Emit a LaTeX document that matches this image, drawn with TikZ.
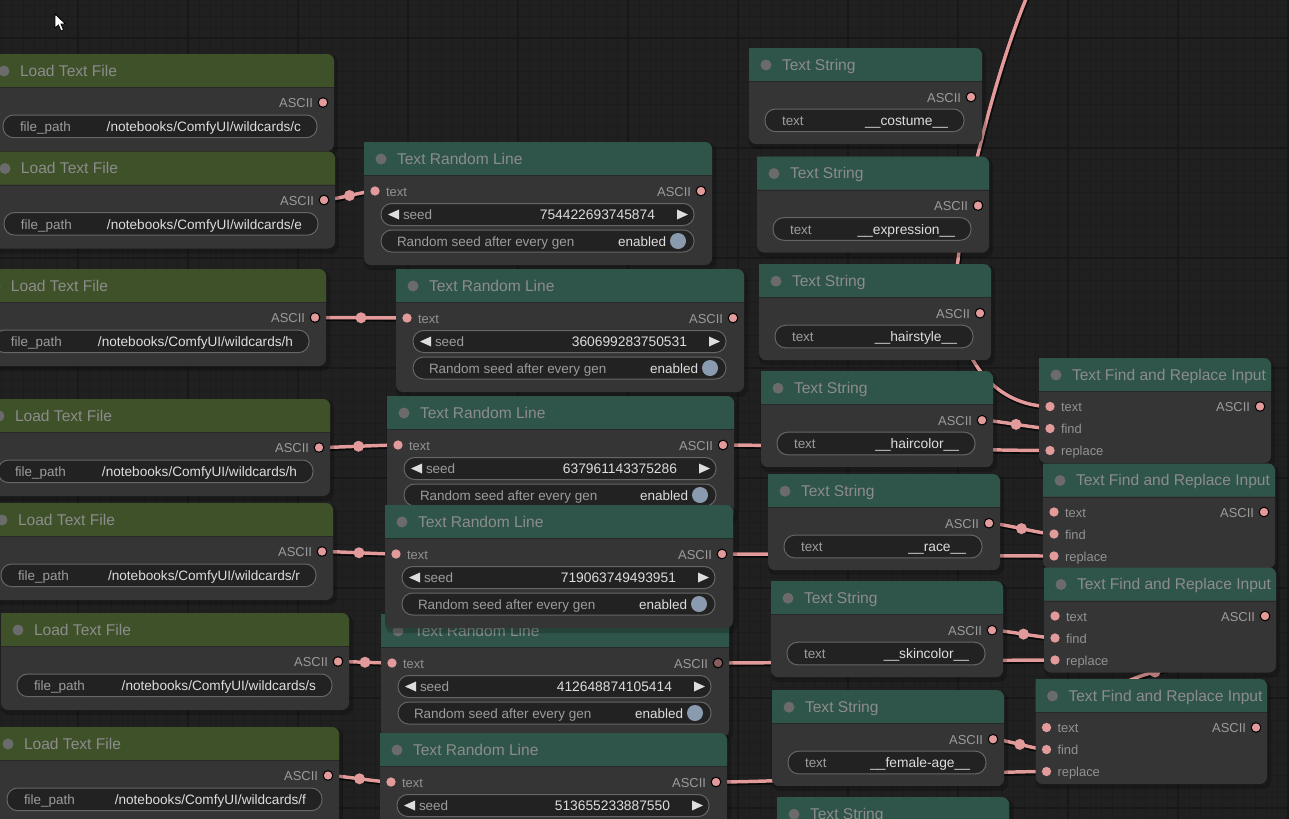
\documentclass[tikz,border=0pt]{standalone}
\usepackage{fontspec}
\setmainfont{Liberation Sans}
\definecolor{canvas}{HTML}{202020}
\definecolor{gridminor}{HTML}{1C1C1C}
\definecolor{gridmajor}{HTML}{181818}
\definecolor{bodyc}{HTML}{353535}
\definecolor{greenc}{HTML}{3F5129}
\definecolor{tealc}{HTML}{2F5449}
\definecolor{pinkc}{HTML}{E39A9A}
\definecolor{widgetc}{HTML}{222222}
\definecolor{widgetb}{HTML}{666666}
\definecolor{titlec}{HTML}{8C8C8C}
\definecolor{labelc}{HTML}{9C9C9C}
\definecolor{valuec}{HTML}{DDDDDD}
\definecolor{toggledot}{HTML}{8A9BB0}
\pgfdeclarelayer{backdrop}
\pgfdeclarelayer{links}
\pgfsetlayers{backdrop,links,main}
\tikzset{
  x=0.75pt,y=-0.75pt,
  nodebody/.style={rectangle,rounded corners=5.25pt,fill=bodyc,inner sep=0pt,outer sep=0pt,anchor=north west},
  shadowbox/.style={rectangle,rounded corners=6pt,fill=black,opacity=.2,inner sep=0pt,outer sep=0pt,anchor=north west},
  widgetbox/.style={rectangle,rounded corners=8pt,fill=widgetc,draw=widgetb,line width=.75pt,inner sep=0pt,outer sep=0pt,anchor=north west},
  txt/.style={inner sep=0pt,outer sep=0pt,text height=7.5pt,text depth=0pt,font=\fontsize{9.7pt}{11pt}\selectfont},
  wlabel/.style={txt,font=\fontsize{10.1pt}{11pt}\selectfont},
  wvalue/.style={txt,font=\fontsize{10.2pt}{11pt}\selectfont},
  wseed/.style={txt,font=\fontsize{10.35pt}{11pt}\selectfont},
  titletxt/.style={inner sep=0pt,outer sep=0pt,anchor=west,text height=8pt,text depth=0pt,text=titlec,font=\fontsize{11.68pt}{13pt}\selectfont},
  titledot/.style={circle,fill=black!58,inner sep=0pt,outer sep=0pt,minimum size=8.25pt},
  indot/.style={circle,fill=pinkc,inner sep=0pt,outer sep=0pt,minimum size=7pt},
  outdot/.style={circle,fill=pinkc,draw=black,line width=.75pt,inner sep=0pt,outer sep=0pt,minimum size=7.25pt},
  togdot/.style={circle,fill=toggledot,inner sep=0pt,outer sep=0pt,minimum size=12pt},
  link/.style={draw=pinkc,line width=2.6pt,preaction={draw=black,opacity=.7,line width=4.2pt,transform canvas={xshift=.4pt,yshift=-.6pt}}},
  middot/.style={circle,fill=pinkc,inner sep=0pt,outer sep=0pt,minimum size=8.25pt},
  arrowtip/.style={fill=valuec},
}
\newcommand{\frameN}[7]{%
  \node[shadowbox,minimum width={(#4-#2+4)*.75pt},minimum height={(#5-#3+4)*.75pt}] at (#2,#3+1) {};
  \node[nodebody,minimum width={(#4-#2)*.75pt},minimum height={(#5-#3)*.75pt}] (#1) at (#2,#3) {};
  \fill[#6] (#2,#3+33) -- (#2,#3) {[rounded corners=5.25pt] -- (#4,#3) -- (#4,#3+12)} -- (#4,#3+33) -- cycle;
  \draw[black,opacity=.25,line width=.75pt] (#2,#3+33.5) -- (#4,#3+33.5);
  \node[titledot] (#1-d) at (#2+17,#3+17) {};
  \node[titletxt] (#1-t) at (#2+33,#3+17) {#7};
}
\newcommand{\outP}[3]{%
  \node[outdot] (#1-out) at (#2-11,#3) {};
  \node[txt,anchor=east,text=labelc] (#1-outl) at (#2-21,#3+.2) {ASCII};
}
\newcommand{\inP}[5]{%
  \node[indot] (#1-#2) at (#3+11,#4) {};
  \node[txt,anchor=west,text=labelc!110!white] (#1-#2l) at (#3+22,#4+.1) {#5};
}
\newcommand{\lineW}[6]{%
  \node[widgetbox,minimum width={(#4-#2-33)*.75pt},minimum height=17pt] (#1-w) at (#2+16,#3) {};
  \node[wlabel,anchor=west,text=labelc] (#1-wl) at (#2+33,#3+11.5) {#5};
  \node[wvalue,anchor=east,text=valuec] (#1-wv) at (#4-33,#3+11.5) {#6};
}
\newcommand{\loadN}[5]{%
  \frameN{#1}{#2}{#3}{#4}{#3+97}{greenc}{Load Text File}
  \outP{#1}{#4}{#3+48.5}
  \lineW{#1}{#2}{#3+61}{#4}{file\_path}{#5}
}
\newcommand{\stringN}[5]{%
  \frameN{#1}{#2}{#3}{#4}{#3+96}{tealc}{Text String}
  \outP{#1}{#4}{#3+49}
  \lineW{#1}{#2}{#3+61}{#4-1}{text}{\fontsize{10.35pt}{11pt}\selectfont #5}
}
\newcommand{\randN}[5]{%
  \frameN{#1}{#2}{#3}{#4}{#3+123}{tealc}{Text Random Line}
  \inP{#1}{in}{#2}{#3+49}{text}
  \outP{#1}{#4}{#3+49}
  \node[widgetbox,minimum width={(#4-#2-35)*.75pt},minimum height=16.5pt] (#1-s) at (#2+17,#3+61.5) {};
  \fill[arrowtip] (#2+24,#3+72.5) -- (#2+35,#3+67.5) -- (#2+35,#3+77.5) -- cycle;
  \fill[arrowtip] (#4-24,#3+72.5) -- (#4-35,#3+67.5) -- (#4-35,#3+77.5) -- cycle;
  \node[wlabel,anchor=west,text=labelc] (#1-sl) at (#2+39,#3+72.3) {seed};
  \node[wseed,anchor=east,text=valuec] (#1-sv) at (#4-57,#3+72.3) {#5};
  \node[widgetbox,minimum width={(#4-#2-35)*.75pt},minimum height=16.5pt] (#1-g) at (#2+17,#3+88) {};
  \node[wlabel,anchor=west,text=labelc] (#1-gl) at (#2+33,#3+99.2) {Random seed after every gen};
  \node[wlabel,anchor=east,text=valuec] (#1-gv) at (#4-46,#3+99.2) {enabled};
  \node[togdot] (#1-gd) at (#4-34,#3+99) {};
}
\newcommand{\findN}[4]{%
  \frameN{#1}{#2}{#3}{#4}{#3+105}{tealc}{Text Find and Replace Input}
  \inP{#1}{text}{#2}{#3+48.5}{text}
  \inP{#1}{find}{#2}{#3+70.5}{find}
  \inP{#1}{repl}{#2}{#3+92.5}{replace}
  \outP{#1}{#4}{#3+48.5}
}
\begin{document}
\begin{tikzpicture}
\useasboundingbox (0,0) rectangle (1289,818);
\clip (-1,-1) rectangle (1290,820);
\begin{pgfonlayer}{backdrop}
  \fill[canvas] (-1,-1) rectangle (1290,820);
  \foreach \k in {0,...,117} {\draw[gridminor,line width=.75pt] (1+\k*11,-1) -- (1+\k*11,820);}
  \foreach \k in {0,...,74} {\draw[gridminor,line width=.75pt] (-1,5+\k*11) -- (1290,5+\k*11);}
  \foreach \k in {0,...,11} {\draw[gridmajor,line width=1.5pt] (78+\k*110,-1) -- (78+\k*110,820);}
  \foreach \k in {0,...,7} {\draw[gridmajor,line width=1.5pt] (-1,38+\k*110) -- (1290,38+\k*110);}
\end{pgfonlayer}

\loadN{L1}{-13}{54}{334}{/notebooks/ComfyUI/wildcards/c}
\loadN{L2}{-12}{151.5}{335}{/notebooks/ComfyUI/wildcards/e}
\loadN{L3}{-22}{269}{326}{/notebooks/ComfyUI/wildcards/h}
\loadN{L4}{-18}{399}{330}{/notebooks/ComfyUI/wildcards/h}
\loadN{L5}{-15}{503}{333}{/notebooks/ComfyUI/wildcards/r}
\loadN{L6}{1}{613}{349}{/notebooks/ComfyUI/wildcards/s}
\loadN{L7}{-9}{727}{339}{/notebooks/ComfyUI/wildcards/f}

\randN{T1}{364}{142}{712}{754422693745874}
\randN{T2}{396}{269}{744}{360699283750531}
\randN{T3}{387}{396}{734}{637961143375286}
\begin{scope}[outdot/.append style={fill=pinkc!60!black}]
\randN{T5}{381}{614}{729}{412648874105414}
\end{scope}
\randN{T4}{385}{505}{733}{719063749493951}
\randN{T6}{380}{733}{727}{513655233887550}

\stringN{S1}{749}{48}{982}{\_\_costume\_\_}
\stringN{S2}{757}{156.6}{989}{\_\_expression\_\_}
\stringN{S3}{759}{264.2}{991}{\_\_hairstyle\_\_}
\stringN{S4}{761}{371.2}{993}{\_\_haircolor\_\_}
\stringN{S5}{768}{474.2}{1000}{\_\_race\_\_}
\stringN{S6}{771}{581.2}{1003}{\_\_skincolor\_\_}
\stringN{S7}{772}{690.2}{1004}{\_\_female-age\_\_}
\stringN{S8}{777}{797.2}{1009}{}

\findN{F1}{1039}{358}{1271}
\findN{F2}{1043}{463.5}{1275}
\findN{F3}{1044}{567.5}{1276}
\findN{F4}{1035.5}{679}{1267}

\coordinate (topfar) at (1032,-15);
\coordinate (hidA) at (1100,692);
\coordinate (hidB) at (1210,652);

\begin{pgfonlayer}{links}
  \tikzset{lk/.style={out=0,in=180,looseness=.5}}
  \draw[link] (L2-out.center) to[lk] node[middot,pos=.5] {} (T1-in.center);
  \draw[link] (L3-out.center) to[lk] node[middot,pos=.5] {} (T2-in.center);
  \draw[link] (L4-out.center) to[lk] node[middot,pos=.5] {} (T3-in.center);
  \draw[link] (L5-out.center) to[lk] node[middot,pos=.5] {} (T4-in.center);
  \draw[link] (L6-out.center) to[lk] node[middot,pos=.5] {} (T5-in.center);
  \draw[link] (L7-out.center) to[lk] node[middot,pos=.5] {} (T6-in.center);
  \draw[link] (S4-out.center) to[lk] node[middot,pos=.5] {} (F1-find.center);
  \draw[link] (S5-out.center) to[lk] node[middot,pos=.5] {} (F2-find.center);
  \draw[link] (S6-out.center) to[lk] node[middot,pos=.5] {} (F3-find.center);
  \draw[link] (S7-out.center) to[lk] node[middot,pos=.5] {} (F4-find.center);
  \draw[link] (T3-out.center) to[lk] (F1-repl.center);
  \draw[link] (T4-out.center) to[lk] (F2-repl.center);
  \draw[link] (T5-out.center) to[lk] (F3-repl.center);
  \draw[link] (T6-out.center) to[lk] (F4-repl.center);
  \draw[link] (F1-text.center) .. controls (985,406) and (945,340) .. (958,260) .. controls (964,200) and (998,60) .. (topfar);
  \draw[link] (hidA) .. controls (1130,682) and (1130,678) .. (1155,672) .. controls (1180,666) and (1190,660) .. (hidB);
  \node[middot] (hiddot) at (1155,672) {};
\end{pgfonlayer}

\filldraw[white,draw=black,line width=.6pt] (55,14) -- (55,28) -- (58.5,25) -- (61,31) -- (63.5,30) -- (61,24) -- (65.5,24) -- cycle;
\end{tikzpicture}
\end{document}
